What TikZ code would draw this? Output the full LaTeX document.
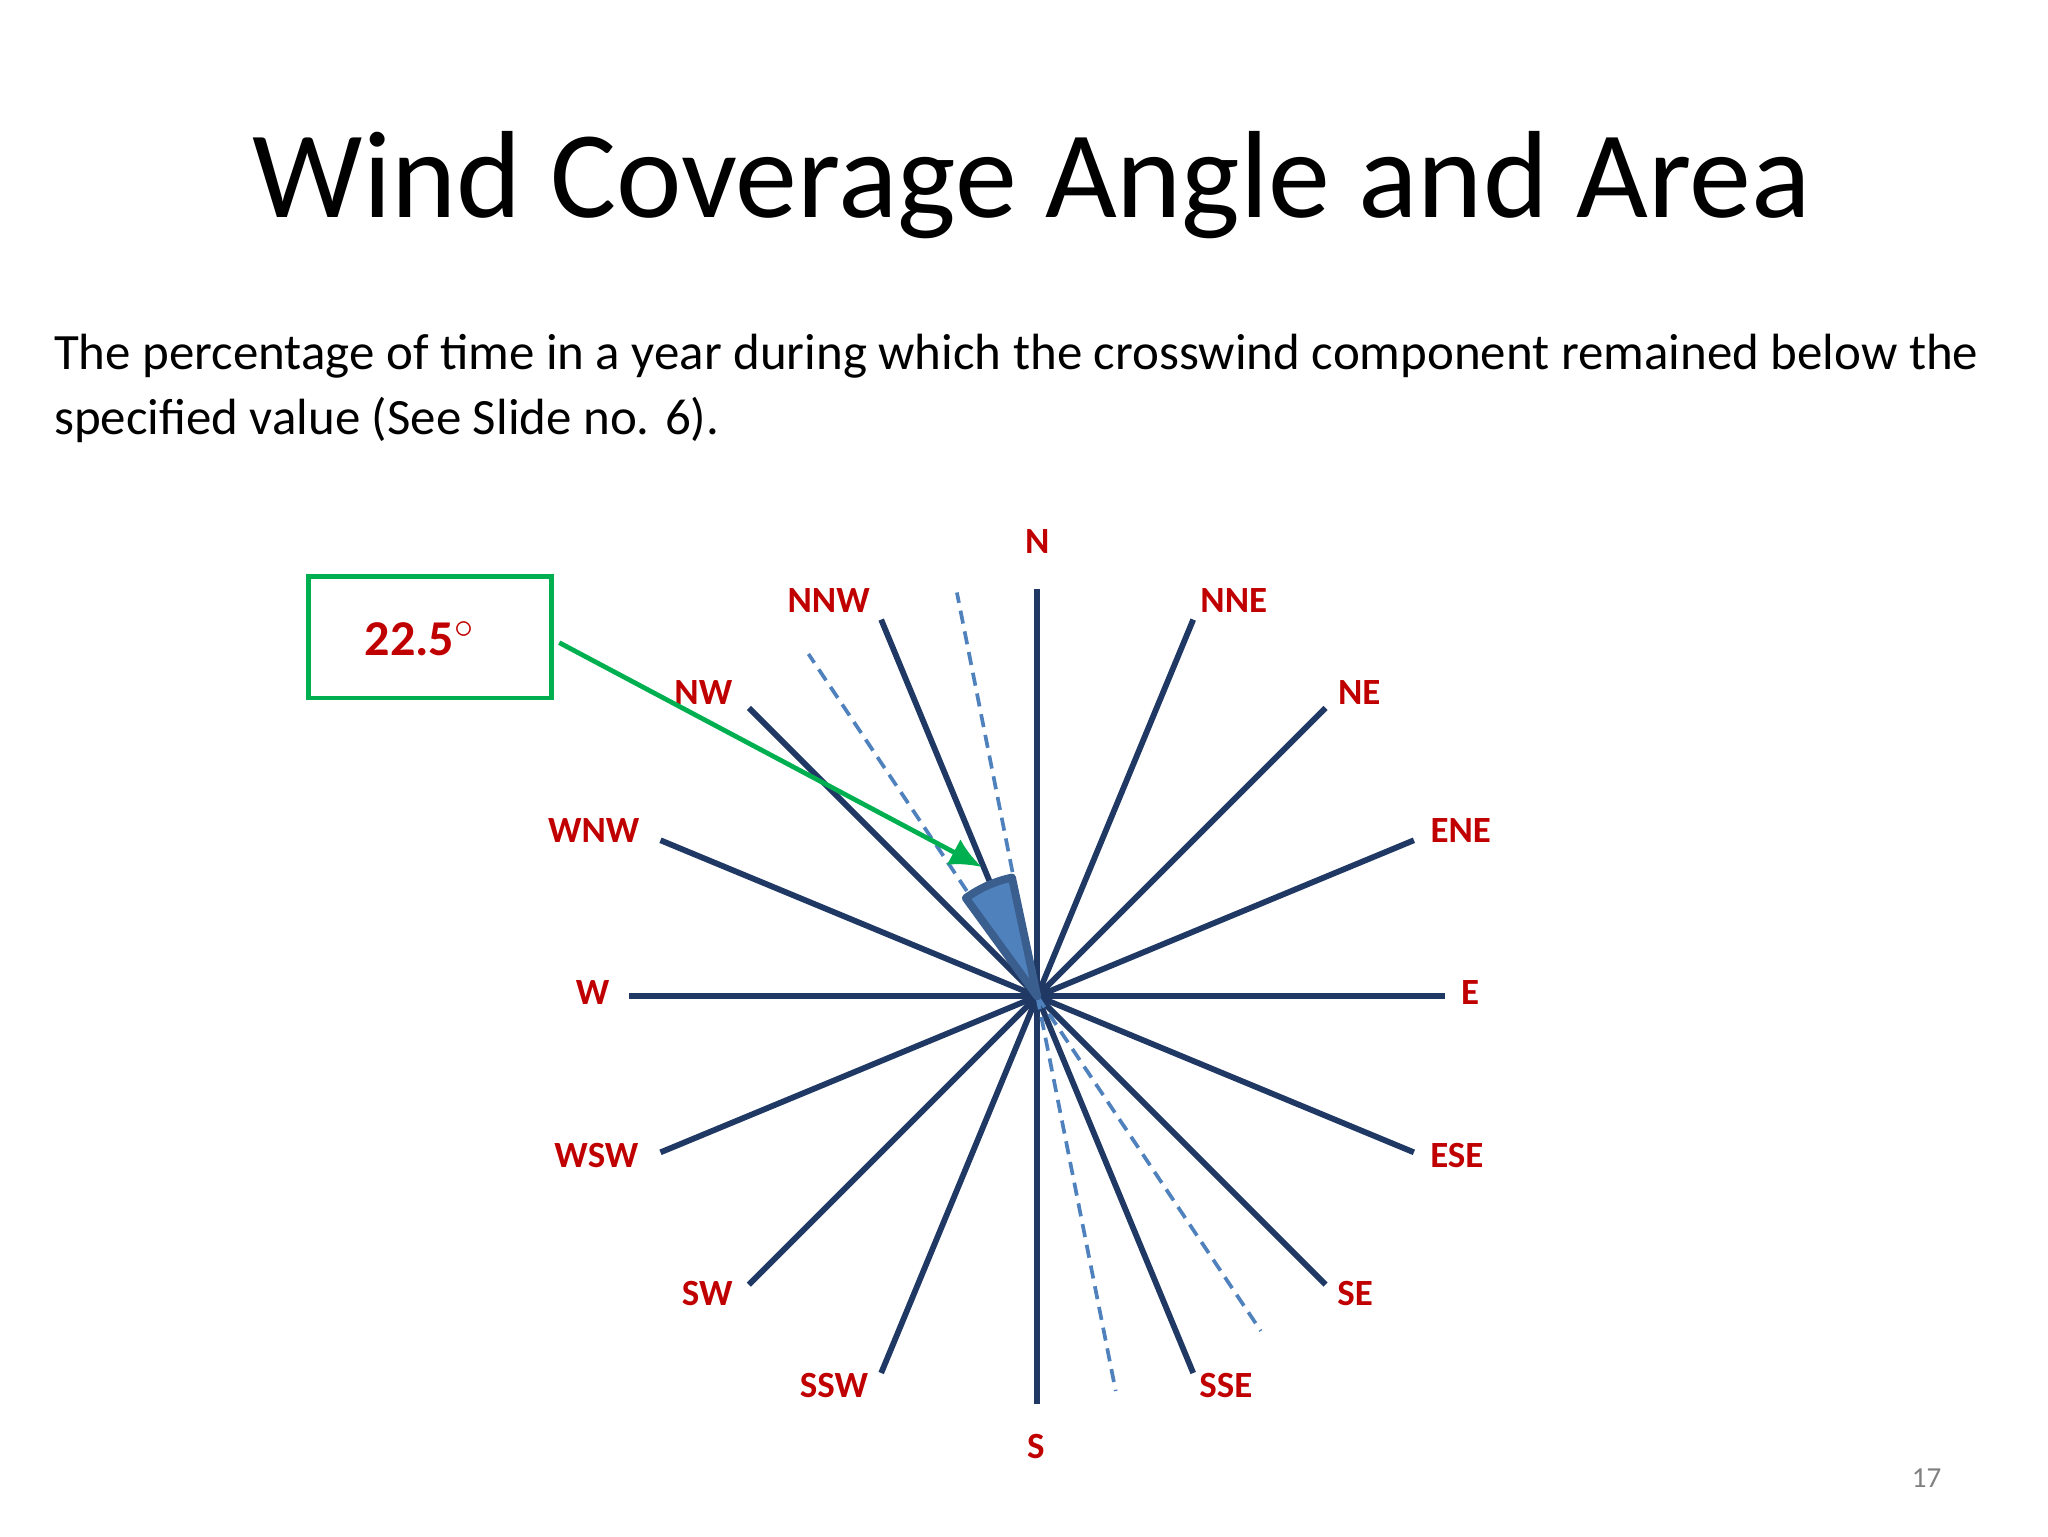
\documentclass[tikz,border=0pt]{standalone}
\usepackage{fontspec}
\setmainfont{Carlito}
\usetikzlibrary{arrows.meta}
\definecolor{spokec}{RGB}{31,56,100}
\definecolor{dashc}{RGB}{79,129,189}
\definecolor{wedgeb}{RGB}{58,95,143}
\definecolor{labc}{RGB}{192,0,0}
\definecolor{grn}{RGB}{0,176,80}
\begin{document}
\begin{tikzpicture}[x=0.5pt,y=-0.5pt,
  spoke/.style={draw=spokec, line width=2.2pt},
  dashline/.style={draw=dashc, line width=1.4pt, dash pattern=on 5pt off 3pt},
  lab/.style={text=labc, font=\bfseries\fontsize{14}{16}\selectfont}]
\useasboundingbox (0,0) rectangle (1552,1164);
\node (title) at (782,140) {\fontsize{47}{56}\selectfont Wind Coverage Angle and Area};
\node[anchor=west] (l1) at (34,270) {\fontsize{19.3}{23}\selectfont The percentage of time in a year during which the crosswind component remained below the};
\node[anchor=west] (l2) at (34,318) {\fontsize{19.3}{23}\selectfont specified value (See Slide no. 6).};
\coordinate (c) at (786,755);
\foreach \a in {0,22.5,...,337.5} \draw[spoke] (c) -- ++(90-\a:309);
\foreach \a in {11.25,33.75} {\draw[dashline] (c) -- ++(-90-\a:312); \draw[dashline] (c) -- ++(90-\a:305);}
\filldraw[fill=dashc, draw=wedgeb, line width=3pt, line join=round]
  (c) -- ++(-102:92) arc[start angle=-102, end angle=-126, radius=92] -- cycle;
\foreach \t/\x/\y in {N/786/410,NNE/935/455,NE/1030/525,ENE/1107/629,E/1114/752,ESE/1104/876,SE/1027/980,SSE/929/1050,S/785/1096,SSW/632/1050,SW/536/980,WSW/452/876,W/449/752,WNW/450/629,NW/533/525,NNW/628/455}
  \node[lab] (lab\t) at (\x,\y) {\t};
\node[draw=grn, line width=1.8pt, minimum width=92pt, minimum height=46pt] (box) at (326,483) {};
\node[text=labc, font=\bfseries\fontsize{19}{22}\selectfont] (deg) at (318,484) {22.5$^\circ$};
\coordinate (tip) at (744,657);
\draw[draw=grn, line width=1.8pt, -{Latex[length=12pt,width=11pt]}] ([shift={(4,4)}]box.east) -- (tip);
\node[text=gray, font=\fontsize{11}{13}\selectfont] (pg) at (1460,1120) {17};
\end{tikzpicture}
\end{document}
